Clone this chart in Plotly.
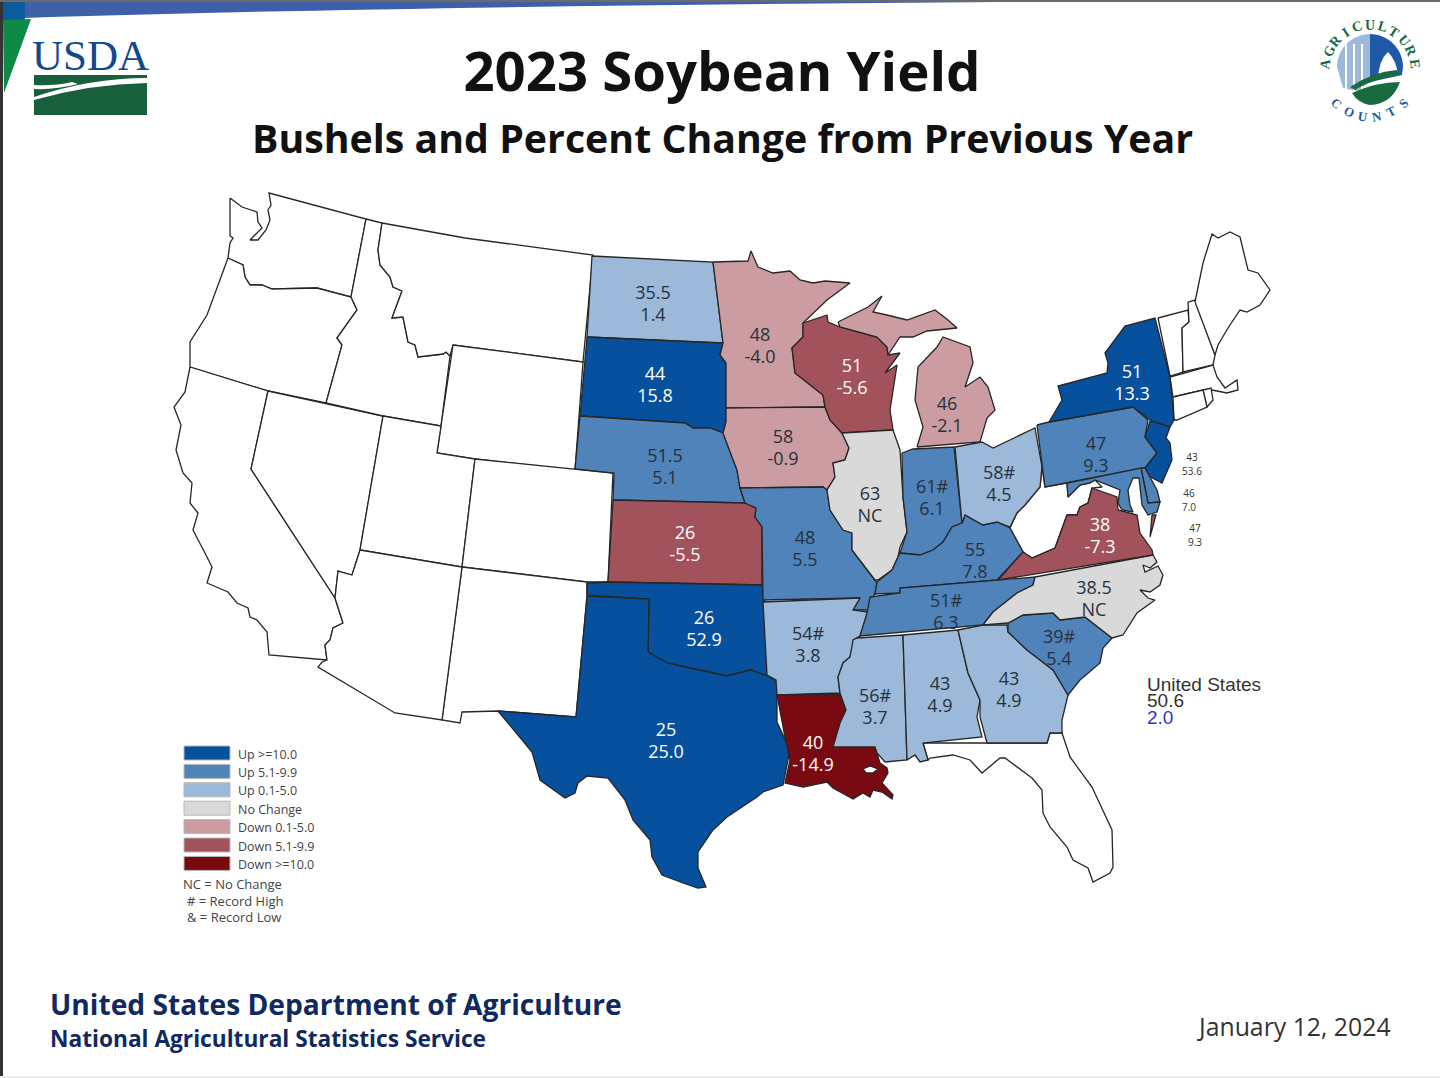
import math
import plotly.graph_objects as go

# yields and percent change
SOY_STATES = ["ND", "SD", "NE", "KS", "OK", "TX", "MN", "IA", "MO", "AR", "LA", "WI", "IL", "MS", "MI", "IN", "KY",
              "TN", "AL", "OH", "GA", "SC", "NC", "VA", "PA", "NY", "NJ", "DE", "MD"]
YIELDS = ["35.5", "44", "51.5", "26", "26", "25", "48", "58", "48", "54#", "40", "51", "63", "56#", "46", "61#", "55",
          "51#", "43", "58#", "43", "39#", "38.5", "38", "47", "51", "43", "46", "47"]
CHANGES = [1.4, 15.8, 5.1, -5.5, 52.9, 25.0, -4.0, -0.9, 5.5, 3.8, -14.9, -5.6, 0, 3.7, -2.1, 6.1, 7.8,
           6.3, 4.9, 4.5, 4.9, 5.4, 0, -7.3, 9.3, 13.3, 53.6, 7.0, 9.3]
LABEL_X = [653, 655, 665, 685, 704, 666, 760, 783, 805, 808, 813, 852, 870, 875, 947, 932, 975,
           946, 940, 999, 1009, 1059, 1094, 1100, 1096, 1132, 1192, 1189, 1195]
LABEL_Y = [305, 386, 468, 545, 630, 742, 347, 449, 550, 646, 755, 378, 506, 708, 416, 499, 562,
           613, 696, 485, 691, 649, 600, 537, 456, 384, 465, 501, 536]
SMALL_LABELS = ["NJ", "DE", "MD"]

US_YIELD = "50.6"
US_CHANGE = "2.0"

LEGEND_LABELS = ["Up >=10.0", "Up 5.1-9.9", "Up 0.1-5.0", "No Change", "Down 0.1-5.0", "Down 5.1-9.9", "Down >=10.0"]
LEGEND_COLORS = ["#07509e", "#5083ba", "#9cb9d9", "#d9d9d9", "#cb9ca1", "#a1525b", "#7a0a12"]
LEGEND_NOTES = ["NC = No Change", "# = Record High", "& = Record Low"]

# state outlines
WA = [(230,198),(242,207),(257,212),(258,222),(262,228),(250,240),(258,240),(266,230),(270,220),(268,210),(271,205),(269,193),(366,219),(351,297),(317,288),(272,289),(262,285),(250,285),(245,277),(243,265),(228,258),(230,243),(233,238),(230,236)]
OR = [(228,258),(243,265),(245,277),(250,285),(262,285),(272,289),(317,288),(351,297),(357,310),(337,338),(342,345),(326,403),(268,391),(190,367),(190,342),(207,315)]
CA = [(190,367),(268,391),(251,469),(335,598),(343,623),(333,628),(330,640),(325,645),(327,660),(269,655),(267,632),(257,620),(250,617),(248,608),(237,603),(228,592),(207,583),(212,567),(207,557),(193,530),(198,513),(190,503),(192,483),(183,473),(176,450),(181,425),(174,407),(185,392)]
NV = [(268,391),(383,416),(360,550),(352,575),(338,571),(335,598),(251,469)]
ID = [(366,219),(382,223),(378,250),(380,265),(390,277),(393,287),(402,291),(392,318),(403,317),(408,342),(415,345),(418,357),(443,354),(446,352),(450,356),(441,426),(383,416),(326,403),(342,345),(337,338),(357,310),(351,297)]
MT = [(382,223),(465,238),(593,255),(583,362),(453,345),(450,356),(446,352),(443,354),(418,357),(415,345),(408,342),(403,317),(392,318),(402,291),(393,287),(390,277),(380,265),(378,250)]
WY = [(453,345),(583,362),(575,470),(475,459),(437,453)]
UT = [(383,416),(441,426),(437,453),(475,459),(462,567),(360,550)]
CO = [(475,459),(613,473),(608,582),(587,582),(462,567)]
NM = [(462,567),(587,582),(587,596),(576,717),(498,711),(462,712),(460,723),(442,720)]
AZ = [(360,550),(462,567),(442,720),(395,713),(318,667),(322,662),(327,660),(325,645),(330,640),(333,628),(343,623),(335,598),(338,571),(352,575)]
ND = [(592,256),(713,262),(723,343),(587,337)]
SD = [(587,337),(723,343),(720,355),(726,363),(726,422),(723,433),(710,428),(693,428),(685,423),(580,416)]
NE = [(580,416),(685,423),(693,428),(710,428),(723,433),(732,457),(737,470),(740,488),(745,503),(613,500),(614,473),(575,469)]
KS = [(613,500),(745,503),(756,508),(755,517),(762,527),(762,585),(608,582)]
OK = [(587,583),(608,582),(762,585),(765,603),(768,676),(750,670),(727,676),(710,672),(690,668),(667,663),(648,652),(649,599),(587,595)]
TX = [(587,596),(649,599),(648,652),(667,663),(690,668),(710,672),(727,676),(750,670),(768,676),(777,682),(777,722),(790,750),(783,785),(763,792),(757,797),(727,817),(713,830),(698,852),(698,868),(706,887),(698,888),(683,883),(662,875),(652,857),(650,840),(633,820),(625,800),(608,778),(587,776),(578,783),(575,793),(565,798),(540,780),(532,752),(498,711),(576,717)]
MN = [(713,262),(748,261),(751,251),(758,267),(773,273),(790,271),(800,280),(813,283),(825,281),(850,283),(827,300),(807,320),(803,323),(803,337),(792,348),(795,373),(823,395),(825,407),(726,408),(726,363),(720,355),(723,343)]
WI = [(803,323),(827,315),(828,322),(840,327),(877,337),(887,347),(888,355),(900,353),(885,373),(897,365),(890,410),(893,430),(842,433),(830,420),(825,407),(823,395),(795,373),(792,348),(803,337)]
IA = [(726,408),(825,407),(830,420),(842,433),(849,448),(845,460),(833,463),(835,477),(827,490),(823,487),(740,488),(737,470),(732,457),(723,433),(726,422)]
MO = [(740,488),(823,487),(827,490),(830,510),(843,530),(852,533),(852,550),(875,580),(877,583),(875,593),(868,610),(853,610),(860,598),(763,600),(762,527),(755,517),(756,508),(745,503)]
IL = [(842,433),(893,430),(900,450),(903,497),(907,532),(900,547),(898,557),(892,570),(878,580),(875,580),(852,550),(852,533),(843,530),(830,510),(827,490),(835,477),(833,463),(845,460),(849,448)]
IN = [(902,453),(913,449),(954,447),(962,523),(952,527),(943,542),(933,550),(920,555),(900,553),(907,532),(903,497)]
MI_LOWER = [(917,447),(980,442),(987,418),(995,410),(988,387),(980,377),(965,387),(973,363),(970,347),(943,337),(937,347),(918,367),(915,400),(923,427)]
MI_UPPER = [(838,322),(868,307),(882,296),(873,312),(887,315),(907,320),(935,310),(948,320),(957,328),(940,330),(927,331),(913,337),(900,337),(888,355),(887,347),(877,337),(840,327)]
OH = [(955,447),(982,442),(993,448),(1035,428),(1042,467),(1040,487),(1025,505),(1017,513),(1010,527),(997,522),(983,525),(965,515),(962,523)]
KY = [(962,523),(965,515),(983,525),(997,522),(1010,528),(1023,552),(997,580),(900,588),(900,593),(875,594),(877,582),(892,570),(898,557),(900,553),(920,555),(933,550),(943,542),(952,527)]
WV = [(1042,467),(1045,487),(1067,483),(1068,497),(1080,485),(1090,483),(1095,480),(1102,487),(1092,488),(1088,503),(1080,507),(1077,515),(1067,515),(1055,548),(1032,558),(1023,552),(1010,528),(1017,513),(1025,505),(1040,487)]
PA = [(1037,425),(1049,422),(1133,407),(1148,420),(1145,437),(1157,453),(1145,468),(1045,487)]
NY = [(1049,422),(1062,400),(1058,386),(1107,373),(1108,363),(1105,353),(1125,326),(1155,318),(1170,377),(1174,420),(1170,427),(1150,420),(1133,407)]
NJ = [(1150,421),(1170,427),(1166,438),(1170,443),(1172,460),(1162,483),(1147,475),(1145,468),(1157,453),(1145,437)]
DE = [(1141,468),(1145,468),(1157,490),(1160,502),(1148,503)]
MD = [(1067,483),(1141,468),(1148,503),(1160,502),(1157,512),(1148,515),(1142,505),(1139,478),(1133,478),(1128,490),(1130,505),(1133,512),(1122,510),(1118,503),(1120,490),(1102,483),(1095,480),(1090,483),(1080,485),(1068,497)]
VA = [(998,580),(1023,552),(1032,558),(1055,548),(1067,515),(1077,515),(1080,507),(1088,503),(1092,488),(1103,492),(1117,497),(1118,510),(1137,515),(1140,533),(1152,550),(1153,555)]
VA_SHORE = [(1152,515),(1156,515),(1150,537)]
NC = [(1035,577),(1153,555),(1157,562),(1150,568),(1143,565),(1145,572),(1158,566),(1163,575),(1160,585),(1150,592),(1140,590),(1148,598),(1155,600),(1147,606),(1137,613),(1123,635),(1112,638),(1085,617),(1060,620),(1053,613),(1023,615),(1008,623),(983,625),(993,612),(1017,593),(1033,585)]
TN = [(870,597),(900,593),(900,588),(1035,577),(1033,585),(1017,593),(993,612),(983,625),(860,636),(867,613)]
SC = [(1008,623),(1023,615),(1053,613),(1060,620),(1085,617),(1112,638),(1103,648),(1100,663),(1080,680),(1068,695),(1053,670),(1027,650),(1008,632)]
GA = [(958,630),(983,625),(1007,625),(1008,632),(1027,650),(1053,670),(1068,695),(1062,720),(1062,733),(1050,733),(1047,743),(987,743),(980,717),(980,700),(968,673)]
AL = [(903,635),(958,630),(968,673),(980,700),(977,717),(982,737),(923,743),(928,760),(920,762),(915,755),(907,760)]
MS = [(857,638),(903,635),(907,760),(885,762),(877,753),(875,747),(833,747),(840,723),(846,710),(840,693),(838,677),(843,663),(850,657),(853,640)]
AR = [(763,602),(860,598),(853,610),(868,612),(860,636),(855,639),(850,657),(843,663),(838,677),(840,693),(777,695),(776,680),(767,675)]
LA = [(777,695),(840,694),(846,710),(833,747),(875,747),(880,763),(887,768),(888,773),(882,783),(893,795),(892,799),(882,792),(873,790),(870,797),(863,793),(853,799),(842,793),(833,788),(827,782),(803,787),(785,783),(790,760),(785,737)]
LAKE_PONTCHARTRAIN = [(863,769),(870,766),(878,769),(873,773),(866,773)]
FL = [(923,743),(987,743),(1047,743),(1050,733),(1062,733),(1070,757),(1092,787),(1112,830),(1113,867),(1110,873),(1093,882),(1088,868),(1073,860),(1067,847),(1050,827),(1043,813),(1042,790),(1032,778),(1005,758),(1000,758),(982,773),(970,760),(953,755),(930,758),(928,760)]
VT = [(1158,318),(1188,310),(1189,322),(1182,328),(1183,372),(1170,376)]
NH = [(1188,302),(1195,300),(1215,355),(1213,365),(1183,372),(1182,328),(1189,322)]
ME = [(1195,302),(1203,263),(1212,234),(1218,238),(1230,232),(1240,237),(1248,270),(1258,273),(1270,290),(1260,305),(1247,312),(1240,310),(1228,328),(1218,345),(1215,355)]
MA = [(1170,377),(1213,365),(1217,377),(1225,388),(1237,380),(1238,390),(1227,393),(1212,390),(1203,390),(1173,397)]
RI = [(1203,390),(1211,388),(1213,400),(1207,407)]
CT = [(1173,397),(1203,390),(1207,407),(1177,420),(1174,420)]

OUTLINES = {"WA": WA, "OR": OR, "CA": CA, "NV": NV, "ID": ID, "MT": MT, "WY": WY, "UT": UT, "CO": CO, "NM": NM, "AZ": AZ,
            "WV": WV, "FL": FL, "VT": VT, "NH": NH, "ME": ME, "MA": MA, "RI": RI, "CT": CT,
            "ND": ND, "SD": SD, "NE": NE, "KS": KS, "OK": OK, "TX": TX, "MN": MN, "IA": IA, "MO": MO, "AR": AR, "LA": LA,
            "WI": WI, "IL": IL, "MS": MS, "MI": MI_LOWER, "IN": IN, "KY": KY, "TN": TN, "AL": AL, "OH": OH, "GA": GA,
            "SC": SC, "NC": NC, "VA": VA, "PA": PA, "NY": NY, "NJ": NJ, "DE": DE, "MD": MD}


def change_class(c):
    if c >= 10:
        return 0
    if c > 5:
        return 1
    if c > 0:
        return 2
    if c == 0:
        return 3
    if c >= -5:
        return 4
    if c > -10:
        return 5
    return 6


state_color = {s: LEGEND_COLORS[change_class(c)] for s, c in zip(SOY_STATES, CHANGES)}

fig = go.Figure()


def add_state(points, color):
    fig.add_trace(go.Scatter(x=[p[0] for p in points] + [points[0][0]], y=[p[1] for p in points] + [points[0][1]],
                             mode="lines", fill="toself", fillcolor=color,
                             line=dict(color="#262626", width=1.3), hoverinfo="skip", showlegend=False))


for name, pts in OUTLINES.items():
    add_state(pts, state_color.get(name, "#ffffff"))
add_state(MI_UPPER, state_color["MI"])
add_state(VA_SHORE, state_color["VA"])
add_state(LAKE_PONTCHARTRAIN, "#ffffff")

big = [i for i, s in enumerate(SOY_STATES) if s not in SMALL_LABELS]
small = [i for i, s in enumerate(SOY_STATES) if s in SMALL_LABELS]
text_colors = ["#ffffff" if change_class(CHANGES[i]) in (0, 5, 6) else "#26313d" for i in big]


def change_text(c):
    return "NC" if c == 0 else f"{c:.1f}"


for offset, labels in [(-11, [YIELDS[i] for i in big]), (11, [change_text(CHANGES[i]) for i in big])]:
    fig.add_trace(go.Scatter(x=[LABEL_X[i] for i in big], y=[LABEL_Y[i] + offset for i in big], mode="text", text=labels,
                             textposition="middle center", textfont=dict(family="Open Sans", size=18, color=text_colors),
                             hoverinfo="skip", showlegend=False))
for offset, labels in [(-7, [YIELDS[i] for i in small]), (7, [change_text(CHANGES[i]) for i in small])]:
    fig.add_trace(go.Scatter(x=[LABEL_X[i] for i in small], y=[LABEL_Y[i] + offset for i in small], mode="text", text=labels,
                             textposition="middle center", textfont=dict(family="Open Sans", size=10, color="#333333"),
                             hoverinfo="skip", showlegend=False))

shapes = []
annos = []


def rect(x0, y0, x1, y1, color, line=None):
    shapes.append(dict(type="rect", x0=x0, y0=y0, x1=x1, y1=y1, fillcolor=color, layer="above",
                       line=dict(color=line or color, width=1 if line else 0)))


def path(d, color):
    shapes.append(dict(type="path", path=d, fillcolor=color, layer="above", line=dict(width=0)))


def label(x, y, text, size, color="#222222", family="Open Sans", anchor="left", angle=0):
    annos.append(dict(x=x, y=y, text=text, showarrow=False, xanchor=anchor, yanchor="middle", textangle=angle,
                      font=dict(family=family, size=size, color=color)))


# slide furniture top left
rect(0, 0, 3, 1078, "#333333")
rect(0, 0, 1440, 2, "#6a6a6a")
path("M 25 2 L 1000 2 Q 400 6 24 18 Z", "#3f5fa8")
rect(3, 2, 25, 20, "#0a5c9e")
path("M 3 20 L 31 19 L 4 93 Z", "#0c8a46")
rect(0, 1076, 1440, 1078, "#eeeeee")

# USDA mark
label(90, 55, "USDA", 43, "#10498c", "Liberation Serif", "center")
rect(34, 75, 147, 115, "#18603c")
path("M 34 97 Q 90 78 147 78 L 147 83 Q 90 84 34 100 Z", "#ffffff")
path("M 34 85 Q 55 86 72 82 L 78 84 Q 55 90 34 89 Z", "#ffffff")

# Agriculture Counts mark
path("M 1370 34 C 1352 34 1337 49 1337 67 L 1343 88 L 1360 92 L 1370 78 Z", "#9cb9d9")
path("M 1370 34 C 1388 34 1403 49 1403 67 L 1402 75 L 1370 82 Z", "#1f5aa6")
for bx in (1345, 1353, 1361):
    rect(bx, 44, bx + 2, 92, "#ffffff")
path("M 1378 78 Q 1379 60 1388 52 Q 1396 60 1398 74 Z", "#ffffff")
path("M 1350 87 Q 1372 72 1397 70 L 1400 75 Q 1374 78 1355 90 Z", "#1a6a3f")
path("M 1352 93 Q 1376 82 1400 82 Q 1392 104 1370 105 Q 1358 103 1352 93 Z", "#1a6a3f")
logo_x, logo_y = 1370, 70
for word, radius, a0, a1, color, size in [("AGRICULTURE", 45, -82, 82, "#1a6a3f", 14), ("COUNTS", 47, 225, 135, "#1f5aa6", 13)]:
    for k, ch in enumerate(word):
        deg = a0 + (a1 - a0) * k / (len(word) - 1)
        lx = logo_x + radius * math.sin(math.radians(deg))
        ly = logo_y - radius * math.cos(math.radians(deg))
        label(lx, ly, f"<b>{ch}</b>", size, color, "Liberation Serif", "center", deg if word == "AGRICULTURE" else deg - 180)

# legend
for k, (txt, col) in enumerate(zip(LEGEND_LABELS, LEGEND_COLORS)):
    y = 753 + k * 18.4
    rect(184, y - 7, 230, y + 7, col, "#b8b8b8")
    label(236, y + 1, txt, 12.5, "#444444", "Open Sans")
for txt, x, y in zip(LEGEND_NOTES, [181, 185, 185], [884, 901, 917]):
    label(x, y, txt, 13, "#444444", "Open Sans")

label(1145, 684, "United States", 19, "#333333", "Liberation Sans")
label(1145, 700, US_YIELD, 19, "#333333", "Liberation Sans")
label(1145, 717, US_CHANGE, 19, "#3333cc", "Liberation Sans")

label(722, 138, "<b>Bushels and Percent Change from Previous Year</b>", 39.3, "#111111", "Open Sans", "center")
label(48, 1004, "<b>United States Department of Agriculture</b>", 28.2, "#10295f", "Open Sans")
label(48, 1038, "<b>National Agricultural Statistics Service</b>", 22.7, "#10295f", "Open Sans")
label(1393, 1026, "January 12, 2024", 24.8, "#333333", "Open Sans", "right")

fig.update_layout(
    title=dict(text="<b>2023 Soybean Yield</b>", x=722 / 1440, y=1 - 72 / 1078, xanchor="center", yanchor="middle",
               font=dict(family="Open Sans", size=54.5, color="#111111")),
    width=1440, height=1078, margin=dict(l=0, r=0, t=0, b=0),
    paper_bgcolor="#ffffff", plot_bgcolor="#ffffff",
    xaxis=dict(range=[0, 1440], visible=False, fixedrange=True),
    yaxis=dict(range=[1078, 0], visible=False, fixedrange=True),
    shapes=shapes, annotations=annos, showlegend=False)

fig.write_html("out.html", config={"displayModeBar": False},
               post_script="document.body.style.margin='0';document.body.style.overflow='hidden';")
